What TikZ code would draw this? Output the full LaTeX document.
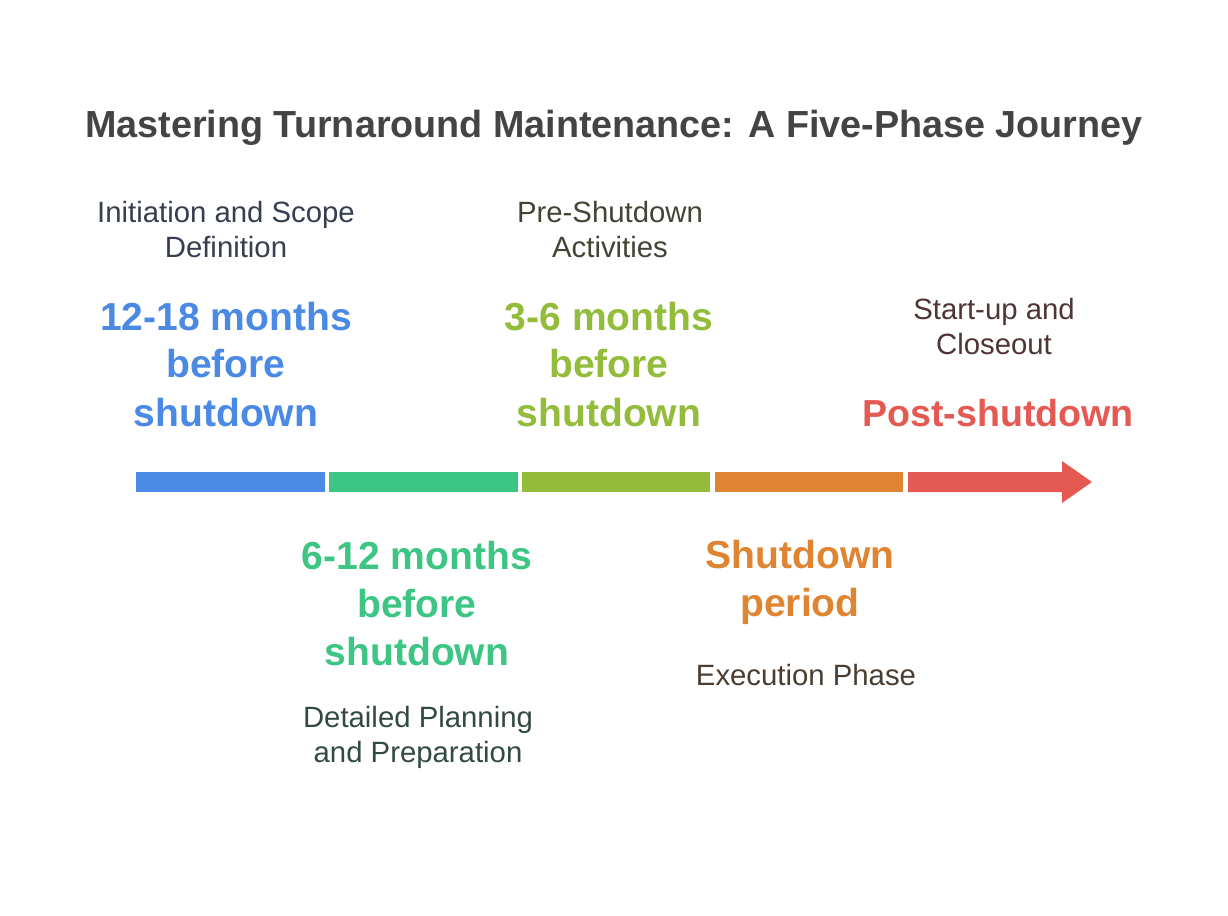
\documentclass[tikz,border=0pt]{standalone}
\usepackage{fontspec}
\setmainfont{Liberation Sans}
\definecolor{cblue}{HTML}{4A89E4}
\definecolor{cgreen}{HTML}{3DC584}
\definecolor{colive}{HTML}{92BC3A}
\definecolor{corange}{HTML}{DF8431}
\definecolor{cred}{HTML}{E55953}
\definecolor{ctitle}{HTML}{444444}
\definecolor{dblue}{HTML}{363F4F}
\definecolor{dolive}{HTML}{404535}
\definecolor{dred}{HTML}{4F3535}
\definecolor{dgreen}{HTML}{334A40}
\definecolor{dorange}{HTML}{4A3E33}
\begin{document}
\begin{tikzpicture}[x=0.75pt,y=-0.75pt,
  seg/.style={rectangle,inner sep=0pt,minimum height=15pt,draw=none},
  big/.style={anchor=base,align=center,inner sep=0pt,font=\fontsize{29.3}{36}\selectfont\bfseries},
  desc/.style={anchor=base,align=center,inner sep=0pt,font=\fontsize{22}{26.25}\selectfont}]
\useasboundingbox[fill=white] (0,0) rectangle (1228,916);
\node[anchor=base,inner sep=0pt,text=ctitle,font=\fontsize{28.3}{34}\selectfont\bfseries] (title) at (614,138) {Mastering Turnaround Maintenance: A Five-Phase Journey};
% timeline
\node[seg,fill=cblue,minimum width=141.75pt] (s1) at (230.5,482) {};
\node[seg,fill=cgreen,minimum width=141.75pt] (s2) at (423.5,482) {};
\node[seg,fill=colive,minimum width=141pt] (s3) at (616,482) {};
\node[seg,fill=corange,minimum width=141pt] (s4) at (809,482) {};
\coordinate (s5a) at (908,472);
\coordinate (tip) at (1092,482);
\fill[cred] (s5a) -- (1062,472) -- (1062,461) -- (tip) -- (1062,503) -- (1062,492) -- (908,492) -- cycle;
% phase 1 (base anchor = last line baseline)
\node[desc,text=dblue] (d1) at (226,258) {Initiation and Scope\\Definition};
\node[big,text=cblue] (b1) at (226,426) {12-18 months\\before\\shutdown};
% phase 3
\node[desc,text=dolive] (d3) at (610,258) {Pre-Shutdown\\Activities};
\node[big,text=colive] (b3) at (609,426) {3-6 months\\before\\shutdown};
% phase 5
\node[desc,text=dred] (d5) at (994,354) {Start-up and\\Closeout};
\node[big,text=cred,font=\fontsize{28.2}{36}\selectfont\bfseries] (b5) at (998,426) {Post-shutdown};
% phase 2
\node[big,text=cgreen] (b2) at (417,665) {6-12 months\\before\\shutdown};
\node[desc,text=dgreen] (d2) at (418,762) {Detailed Planning\\and Preparation};
% phase 4
\node[big,text=corange] (b4) at (800,616) {Shutdown\\period};
\node[desc,text=dorange] (d4) at (806,685) {Execution Phase};
\end{tikzpicture}
\end{document}
